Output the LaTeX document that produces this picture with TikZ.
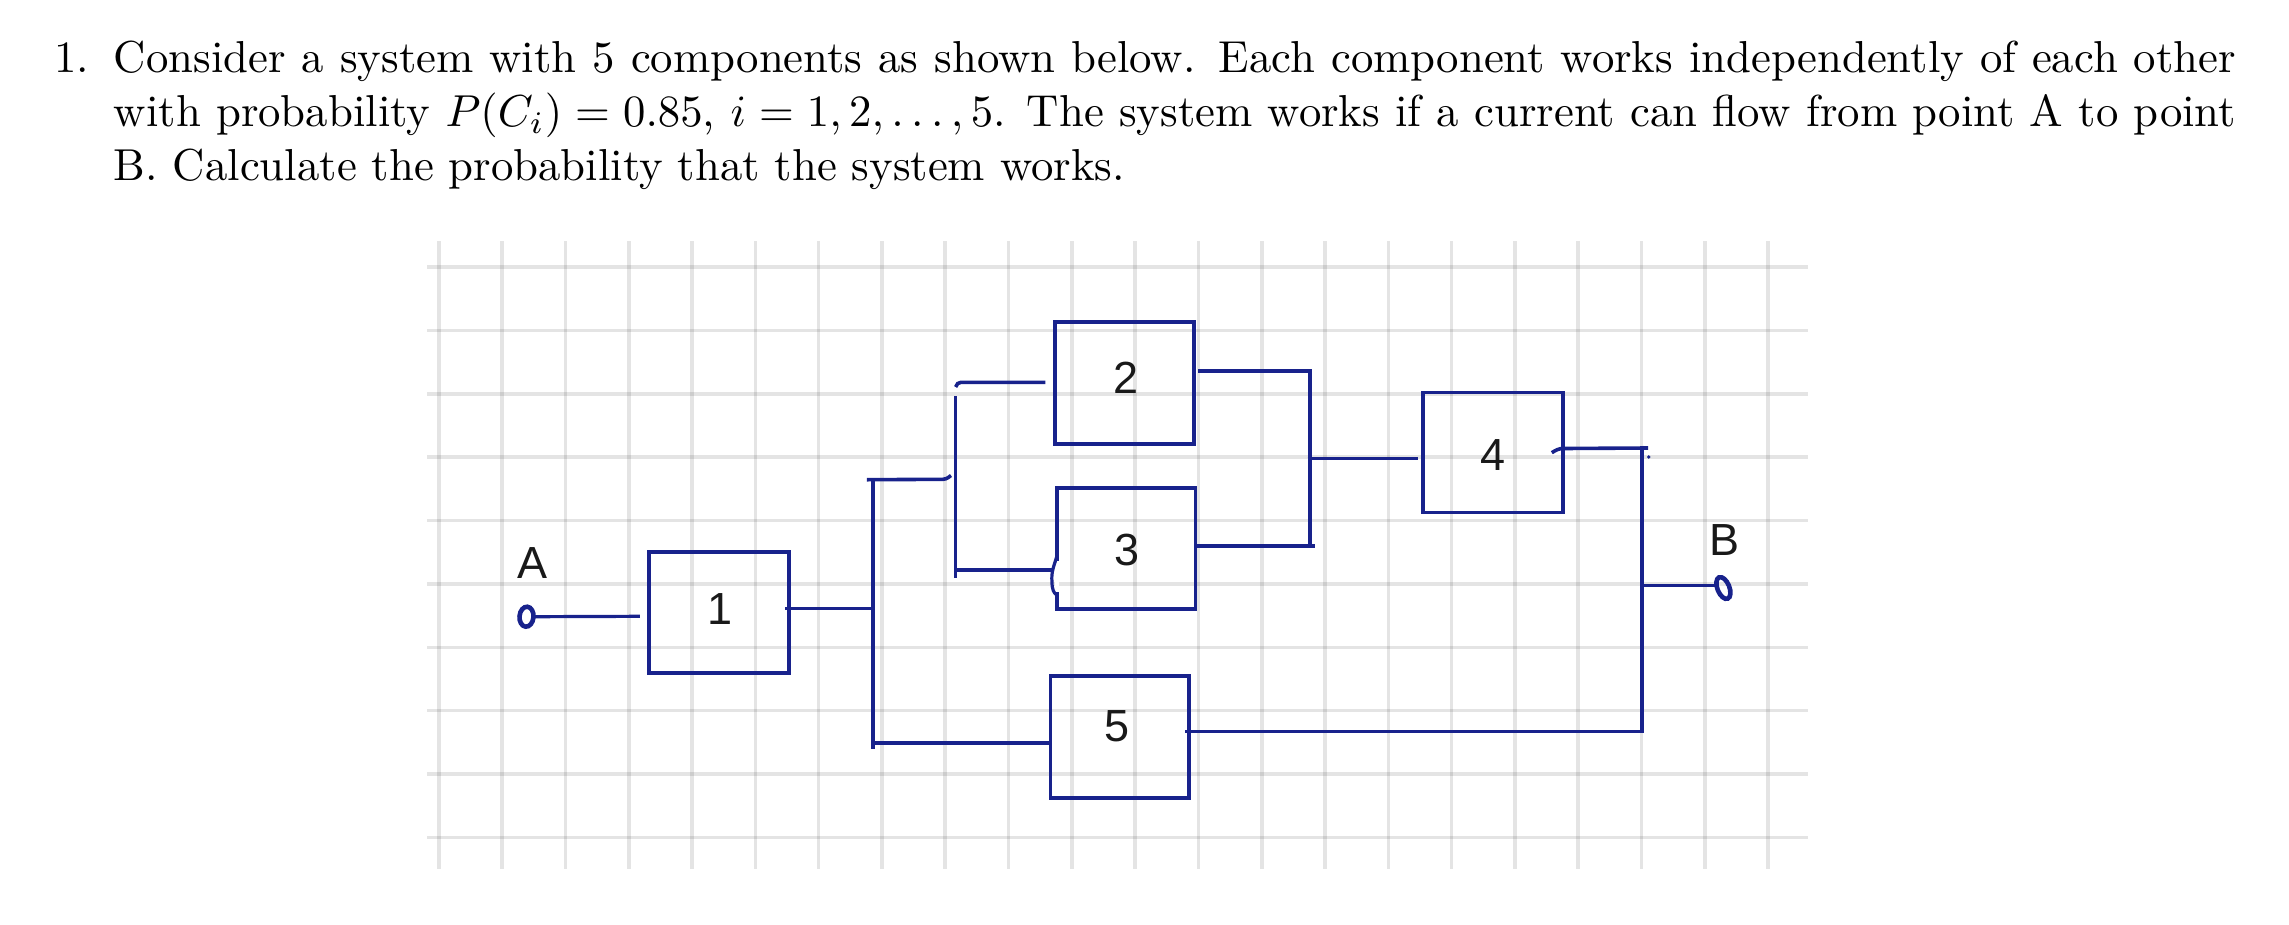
\documentclass[tikz,border=0pt]{standalone}
\usepackage{fontspec}
\newfontfamily\labelfont{Liberation Sans}
\definecolor{wireblue}{RGB}{24,34,140}
\tikzset{
  gridline/.style={draw=black,opacity=.105,line width=3.6pt},
  wire/.style={draw=wireblue,line width=3.6pt},
  thinwire/.style={draw=wireblue,line width=3.2pt},
  compbox/.style={draw=wireblue,line width=3.8pt,rectangle,inner sep=0pt,outer sep=0pt},
  complabel/.style={font=\labelfont\fontsize{45}{45}\selectfont,text=black!90,inner sep=0pt},
  terminal/.style={draw=wireblue,line width=4.6pt,ellipse,inner sep=0pt,outer sep=0pt,fill=none},
}
\usetikzlibrary{shapes.geometric}
\begin{document}
\begin{tikzpicture}[x=1pt,y=-1pt]
\useasboundingbox (0,0) rectangle (2289,924);
% question text
\node[anchor=north west,scale=4.475,inner sep=0pt,text width=474.2pt,align=justify] (question) at (113,40.5)
 {\llap{1.\hspace{5.6pt}}Consider a system with 5 components as shown below. Each component works independently of each other\linebreak
 with probability $P(C_i)=0.85$, $i=1,2,\ldots,5$. The system works if a current can flow from point A to point\linebreak
 B. Calculate the probability that the system works.\par};
% grid
\foreach \i in {0,...,21}{\draw[gridline] ({438.8+63.3*\i},241) -- ({438.8+63.3*\i},869);}
\foreach \j in {0,...,9}{\draw[gridline] (427,{267.2+63.35*\j}) -- (1808,{267.2+63.35*\j});}
% boxes
\node[compbox,minimum width=140.3pt,minimum height=121.4pt] (c1) at (719.2,612.5) {};
\node[compbox,minimum width=139pt,minimum height=121.9pt] (c2) at (1124.5,383.3) {};
\node[compbox,minimum width=138.8pt,minimum height=121.3pt] (c3) at (1126,548.3) {};
\node[compbox,minimum width=140pt,minimum height=120.1pt] (c4) at (1492.6,452.5) {};
\node[compbox,minimum width=138.8pt,minimum height=121.6pt] (c5) at (1119.9,737) {};
% box labels
\node[complabel] (l1) at (720,609) {1};
\node[complabel] (l2) at (1125.5,378) {2};
\node[complabel] (l3) at (1126.5,550) {3};
\node[complabel] (l4) at (1492.6,455) {4};
\node[complabel] (l5) at (1116.8,726) {5};
% terminals
\node[terminal,minimum width=14pt,minimum height=20pt,rotate=-5] (pA) at (526.5,616.7) {};
\node[terminal,minimum width=12pt,minimum height=23pt,rotate=22] (pB) at (1723.4,588) {};
\node[complabel] (lA) at (533,563) {A};
\node[complabel] (lB) at (1724,539.6) {B};
% connector ends and junctions
\coordinate (a1) at (639.8,616.3);
\coordinate (o1s) at (785,608.5);
\coordinate (o1e) at (871,608.5);
\coordinate (bt) at (873,480);
\coordinate (bb) at (873,749);
\coordinate (st0) at (866.8,479.7);
\coordinate (st1) at (943,479.3);
\coordinate (st2) at (951,475.5);
\coordinate (to5a) at (873,743);
\coordinate (to5b) at (1049,743);
\coordinate (s2t) at (955.6,396);
\coordinate (s2b) at (955.6,577.5);
\coordinate (u0) at (955.6,387);
\coordinate (u1) at (961,382.3);
\coordinate (u2) at (1045.4,382.3);
\coordinate (lo0) at (955.6,570);
\coordinate (lo1) at (1053,570);
\coordinate (br0) at (1056.6,557);
\coordinate (br1) at (1052,582);
\coordinate (br2) at (1056.6,595);
\coordinate (o2) at (1198.4,371);
\coordinate (jt) at (1310,371);
\coordinate (jb) at (1310,546);
\coordinate (o3) at (1195.5,546);
\coordinate (jbx) at (1314.7,546);
\coordinate (m0) at (1307.5,458.3);
\coordinate (m1) at (1417.5,458.3);
\coordinate (o4a) at (1551.8,452.7);
\coordinate (o4b) at (1563,448.5);
\coordinate (o4c) at (1648,448);
\coordinate (rt) at (1642,445.5);
\coordinate (rb) at (1642,731.5);
\coordinate (o5) at (1184.8,731.5);
\coordinate (rj) at (1640.5,585.5);
\coordinate (rj2) at (1718,585.5);
% connectors
\draw[thinwire] (pA) ++(8,0) -- (a1);
\draw[wire] (o1s) -- (o1e);
\draw[wire] (bt) -- (bb);
\draw[wire] (st0) -- (st1) .. controls (947,479) and (949,477) .. (st2);
\draw[wire] (to5a) -- (to5b);
\draw[wire] (s2t) -- (s2b);
\draw[wire] (u0) .. controls (957,384) and (958,382.3) .. (u1) -- (u2);
\draw[wire] (lo0) -- (lo1);
\draw[white,line width=4.4pt] (1056.8,561) -- (1056.8,592);
\draw[thinwire] (br0) .. controls (1054,566) and (1051,572) .. (br1) .. controls (1052,590) and (1054,593) .. (br2);
\draw[wire] (o2) -- (jt) -- (jb);
\draw[wire] (o3) -- (jbx);
\draw[thinwire] (m0) -- (m1);
\draw[wire] (o4a) .. controls (1556,450) and (1559,448.5) .. (o4b) -- (o4c);
\draw[wire] (rt) -- (rb) -- (o5);
\draw[wire] (rj) -- (rj2);
\fill[wireblue] (1648.7,457) circle (1.8pt);
\end{tikzpicture}
\end{document}
